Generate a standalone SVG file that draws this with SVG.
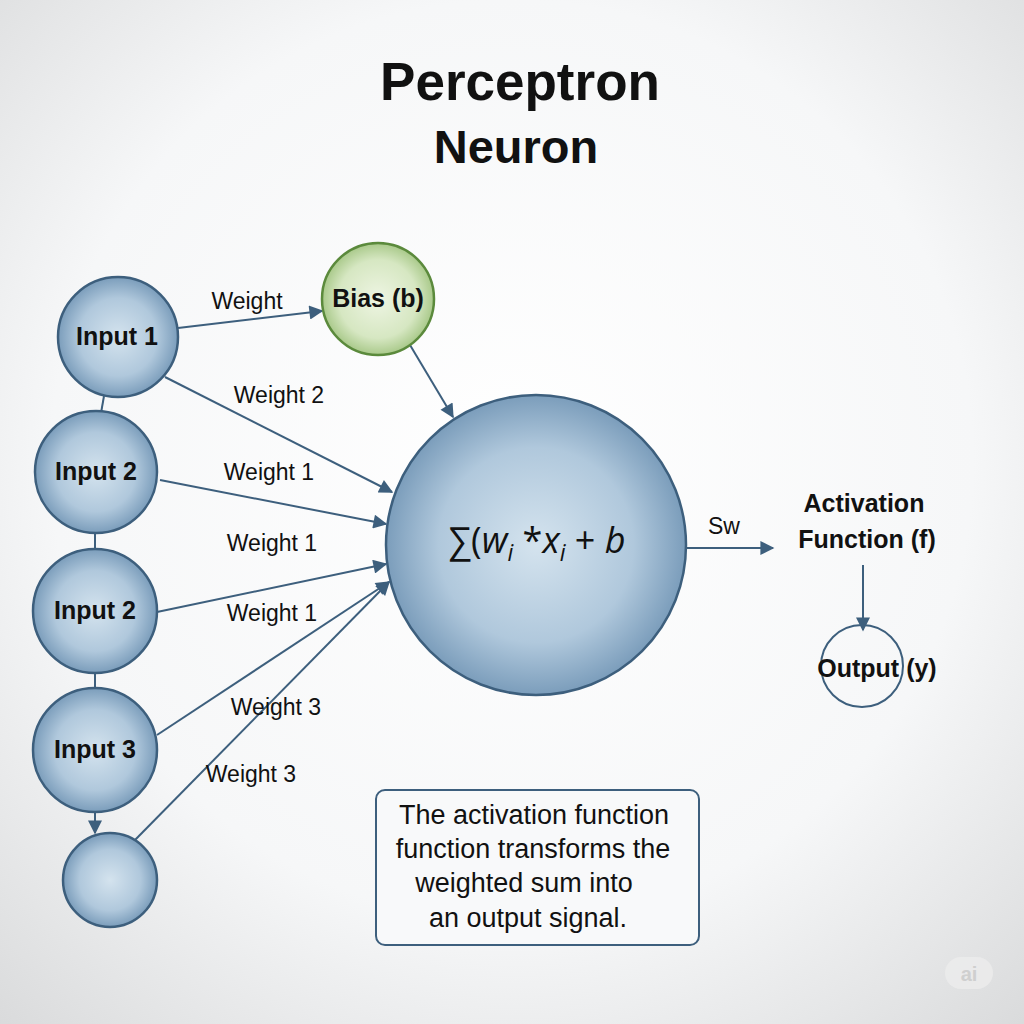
<svg xmlns="http://www.w3.org/2000/svg" width="1024" height="1024" viewBox="0 0 1024 1024">
<defs>
<radialGradient id="bg" cx="50%" cy="45%" r="75%">
<stop offset="0" stop-color="#ffffff"/><stop offset="0.6" stop-color="#f6f7f8"/><stop offset="1" stop-color="#d9dadb"/>
</radialGradient>
<radialGradient id="blue" cx="50%" cy="50%" r="50%">
<stop offset="0" stop-color="#d4e3ee"/><stop offset="0.65" stop-color="#b0c8dc"/><stop offset="1" stop-color="#7b9dbb"/>
</radialGradient>
<radialGradient id="green" cx="50%" cy="50%" r="50%">
<stop offset="0" stop-color="#eef5e3"/><stop offset="0.7" stop-color="#d6e7c2"/><stop offset="1" stop-color="#a9c98a"/>
</radialGradient>
<marker id="arrL" viewBox="0 0 10 10" refX="9" refY="5" markerWidth="16" markerHeight="14" markerUnits="userSpaceOnUse" orient="auto">
<path d="M0,0 L10,5 L0,10 z" fill="#3d5f7d"/>
</marker>
</defs>
<style>
.node{fill:url(#blue);stroke:#3d5f7d;stroke-width:2.5}
.lbl{font-family:"Liberation Sans",Arial,sans-serif;font-weight:bold;font-size:25px;fill:#111;text-anchor:middle}
.w{font-family:"Liberation Sans",Arial,sans-serif;font-size:23px;fill:#111;text-anchor:middle}
.edge{stroke:#3d5f7d;stroke-width:2;fill:none;marker-end:url(#arrL)}
.link{stroke:#3d5f7d;stroke-width:2;fill:none}
</style>
<rect width="1024" height="1024" fill="url(#bg)"/>
<g id="title">
<text x="520" y="100" text-anchor="middle" font-family="Liberation Sans,Arial,sans-serif" font-weight="bold" font-size="53" fill="#111">Perceptron</text>
<text x="516" y="163" text-anchor="middle" font-family="Liberation Sans,Arial,sans-serif" font-weight="bold" font-size="47" fill="#111">Neuron</text>
</g>
<g id="connectors">
<line class="link" x1="104" y1="396" x2="101" y2="413"/>
<line class="link" x1="95" y1="533" x2="95" y2="550"/>
<line class="link" x1="95" y1="673" x2="95" y2="688"/>
<line class="edge" x1="95" y1="812" x2="95" y2="833"/>
<line class="edge" x1="178" y1="328" x2="322" y2="311"/>
<line class="edge" x1="410" y1="345" x2="453" y2="417"/>
<line class="edge" x1="165" y1="377" x2="392" y2="492"/>
<line class="edge" x1="160" y1="480" x2="386" y2="524"/>
<line class="edge" x1="157" y1="612" x2="386" y2="564"/>
<line class="edge" x1="157" y1="735" x2="389" y2="582"/>
<line class="edge" x1="135" y1="840" x2="389" y2="582"/>
<line class="edge" x1="650" y1="548" x2="773" y2="548"/>
<line class="edge" x1="863" y1="565" x2="863" y2="630"/>
<text class="w" x="247" y="309">Weight</text>
<text class="w" x="279" y="403">Weight 2</text>
<text class="w" x="269" y="480">Weight 1</text>
<text class="w" x="272" y="551">Weight 1</text>
<text class="w" x="272" y="621">Weight 1</text>
<text class="w" x="276" y="715">Weight 3</text>
<text class="w" x="251" y="782">Weight 3</text>
<text class="w" x="724" y="534">Sw</text>
</g>
<g id="input1"><circle class="node" cx="118" cy="337" r="60"/><text class="lbl" x="117" y="345">Input 1</text></g>
<g id="input2a"><circle class="node" cx="96" cy="472" r="61"/><text class="lbl" x="96" y="480">Input 2</text></g>
<g id="input2b"><circle class="node" cx="95" cy="611" r="62"/><text class="lbl" x="95" y="619">Input 2</text></g>
<g id="input3"><circle class="node" cx="95" cy="750" r="62"/><text class="lbl" x="95" y="758">Input 3</text></g>
<g id="input4"><circle class="node" cx="110" cy="880" r="47"/></g>
<g id="bias"><circle cx="378" cy="299" r="56" fill="url(#green)" stroke="#5b8a3c" stroke-width="2.5"/><text class="lbl" x="378" y="307">Bias (b)</text></g>
<g id="sum"><circle class="node" cx="536" cy="545" r="150"/>
<text x="537" y="553" text-anchor="middle" font-family="Open Sans,DejaVu Sans,sans-serif" font-size="36" fill="#111">∑(<tspan font-style="italic">w</tspan><tspan font-style="italic" font-size="23" dy="8">i</tspan><tspan dy="-8"> *</tspan><tspan font-style="italic">x</tspan><tspan font-style="italic" font-size="23" dy="8">i</tspan><tspan dy="-8"> + </tspan><tspan font-style="italic">b</tspan></text>
</g>
<g id="activation">
<text class="lbl" x="864" y="512" font-size="30">Activation</text>
<text class="lbl" x="867" y="548" font-size="30">Function (f)</text>
</g>
<g id="output"><circle cx="862" cy="666" r="41" fill="none" stroke="#3d5f7d" stroke-width="2"/><text class="lbl" x="877" y="677" font-size="30">Output (y)</text></g>
<g id="note">
<rect x="376" y="790" width="323" height="155" rx="9" fill="#f8f9fa" stroke="#3d5f7d" stroke-width="2"/>
<g font-family="Liberation Sans,Arial,sans-serif" font-size="27" fill="#111" text-anchor="middle">
<text x="534" y="824">The activation function</text>
<text x="533" y="858">function transforms the</text>
<text x="524" y="892">weighted sum into</text>
<text x="528" y="927">an output signal.</text>
</g>
</g>
<g id="watermark"><rect x="945" y="957" width="48" height="32" rx="16" fill="#ececec" opacity="0.8"/><text x="969" y="981" text-anchor="middle" font-family="Liberation Sans,Arial,sans-serif" font-weight="bold" font-size="20" fill="#cfcfcf">ai</text></g>
</svg>
